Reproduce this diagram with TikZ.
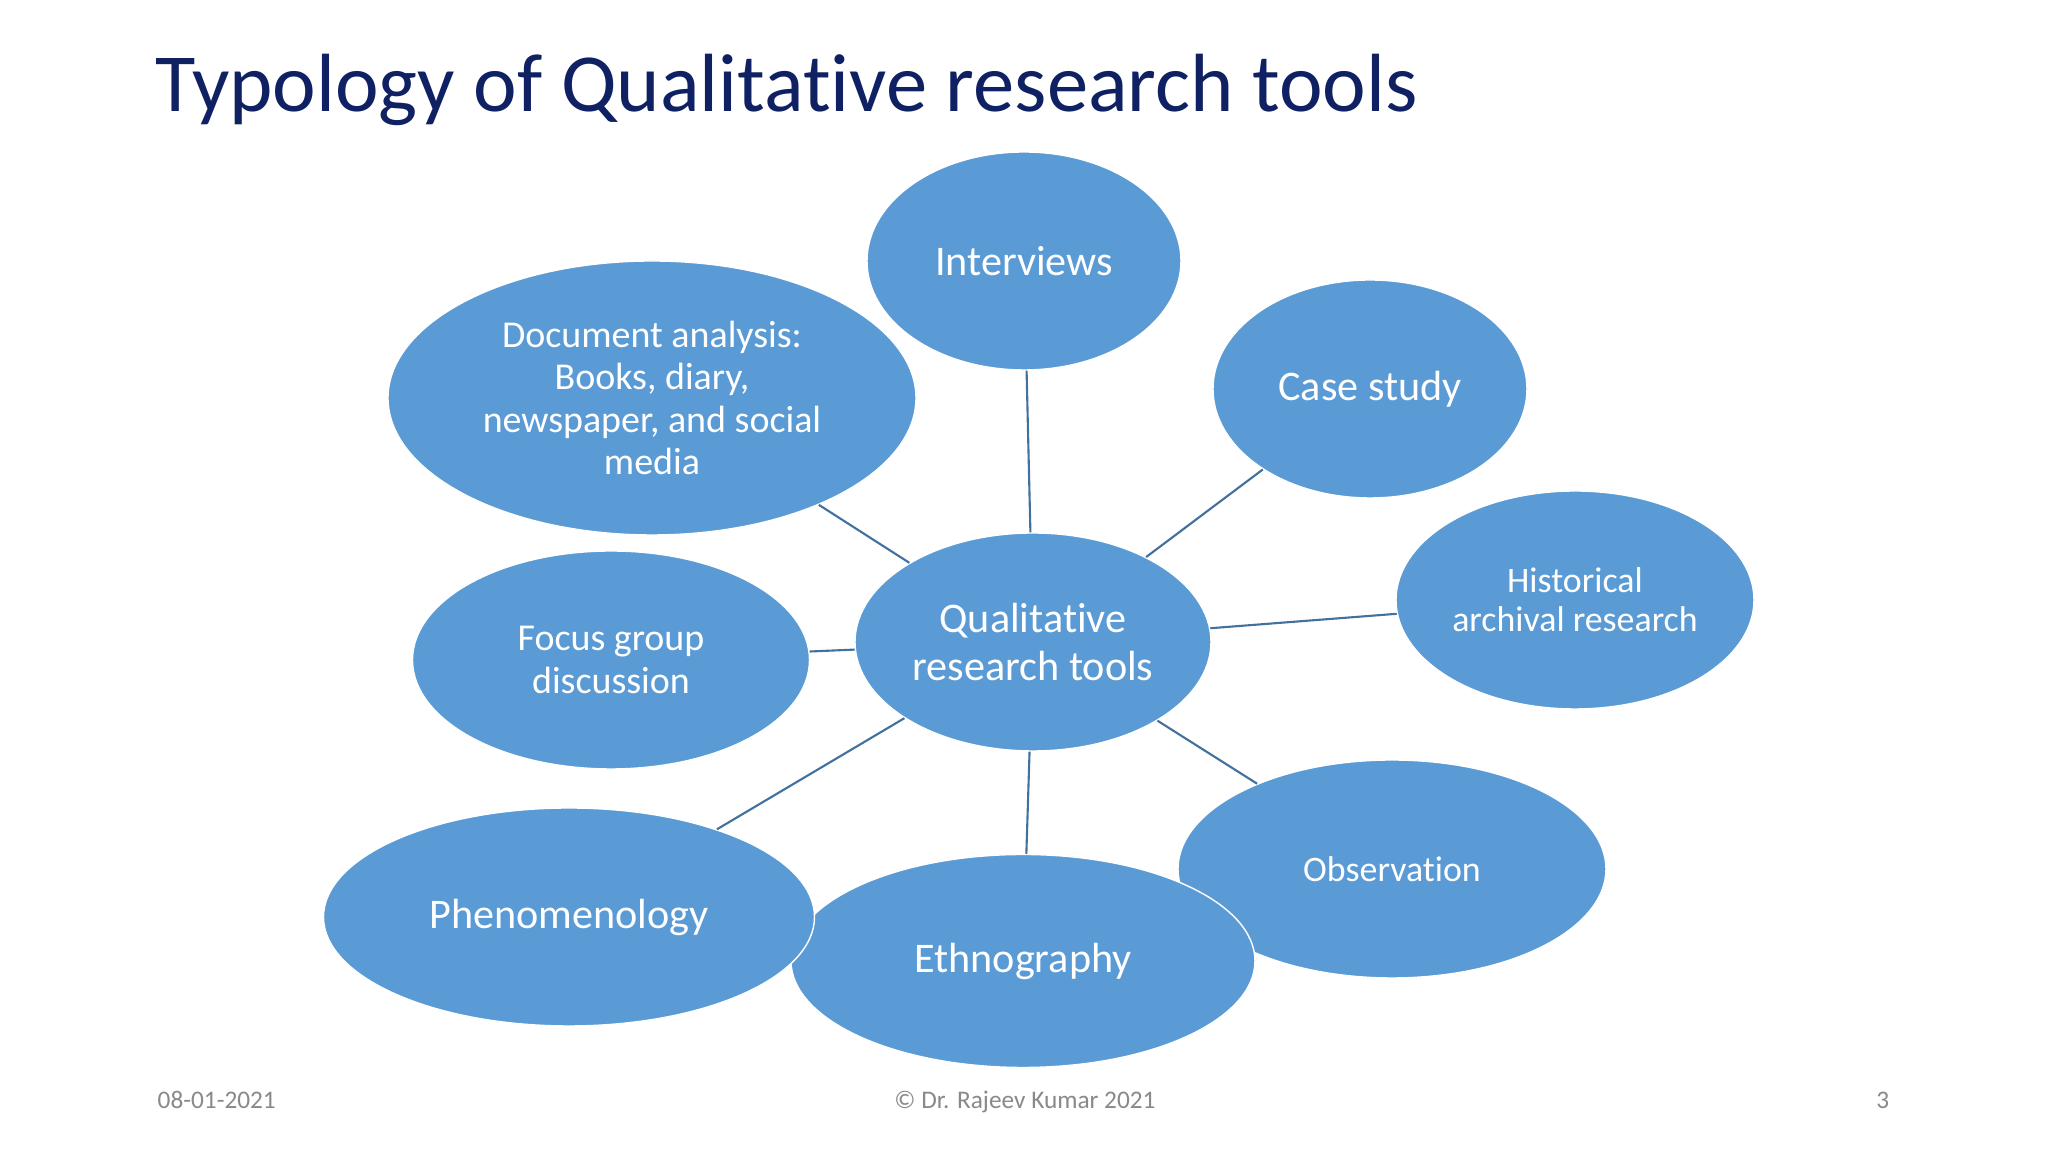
\documentclass[tikz,border=0pt]{standalone}
\usepackage{fontspec}
\setmainfont{Carlito}[Ligatures=NoCommon]
\usepackage{tikz}
\usetikzlibrary{shapes.geometric}
\usepackage{xcolor}
\definecolor{toolblue}{HTML}{5B9BD5}
\definecolor{linkblue}{HTML}{41719C}
\definecolor{titleblue}{HTML}{0F2163}
\definecolor{footgray}{HTML}{898989}

\begin{document}
\begin{tikzpicture}[tool/.style={ellipse,fill=toolblue,draw=white,line width=0.4pt,text=white,align=center,inner sep=0pt},
  big/.style={font=\fontsize{12}{13.4}\selectfont},
  small/.style={font=\fontsize{10.8}{12}\selectfont},
  link/.style={draw=linkblue,line width=0.6pt},
  foot/.style={text=footgray,font=\fontsize{7.2}{8.6}\selectfont,inner sep=0pt}]
\useasboundingbox[fill=white] (0,0) rectangle (20.48,11.52);
\node[anchor=base west,inner sep=0pt,text=titleblue,font=\fontsize{23.5}{28}\selectfont] (title) at (1.55,10.40) {Typology of Qualitative research tools};
\node[tool,big,minimum width=3.14cm,minimum height=2.18cm] (int) at (10.24,8.91) {Interviews};
\node[tool,big,minimum width=3.14cm,minimum height=2.18cm] (case) at (13.70,7.63) {Case study};
\node[tool,small,minimum width=5.28cm,minimum height=2.74cm] (doc) at (6.52,7.54) {Document analysis:\\Books, diary,\\newspaper, and social\\media};
\node[tool,minimum width=3.58cm,minimum height=2.18cm,font=\fontsize{10.2}{11.1}\selectfont] (hist) at (15.75,5.52) {Historical\\archival research};
\node[tool,big,minimum width=3.56cm,minimum height=2.18cm] (hub) at (10.33,5.10) {Qualitative\\research tools};
\node[tool,small,minimum width=3.97cm,minimum height=2.18cm] (focus) at (6.11,4.92) {Focus group\\discussion};
\node[tool,minimum width=4.28cm,minimum height=2.18cm,font=\fontsize{10.2}{11.1}\selectfont] (obs) at (13.92,2.83) {Observation};
\node[tool,big,minimum width=4.64cm,minimum height=2.13cm] (eth) at (10.23,1.91) {Ethnography};
\node[tool,big,minimum width=4.91cm,minimum height=2.18cm] (phen) at (5.69,2.35) {Phenomenology};
\foreach \t in {int,case,doc,hist,focus,obs,eth,phen}
  \draw[link] (hub) -- (\t);
\node[foot,anchor=base west] (date) at (1.57,0.43) {08-01-2021};
\node[foot,anchor=base] (copy) at (10.25,0.43) {© Dr. Rajeev Kumar 2021};
\node[foot,anchor=base east] (page) at (18.90,0.43) {3};
\end{tikzpicture}
\end{document}
